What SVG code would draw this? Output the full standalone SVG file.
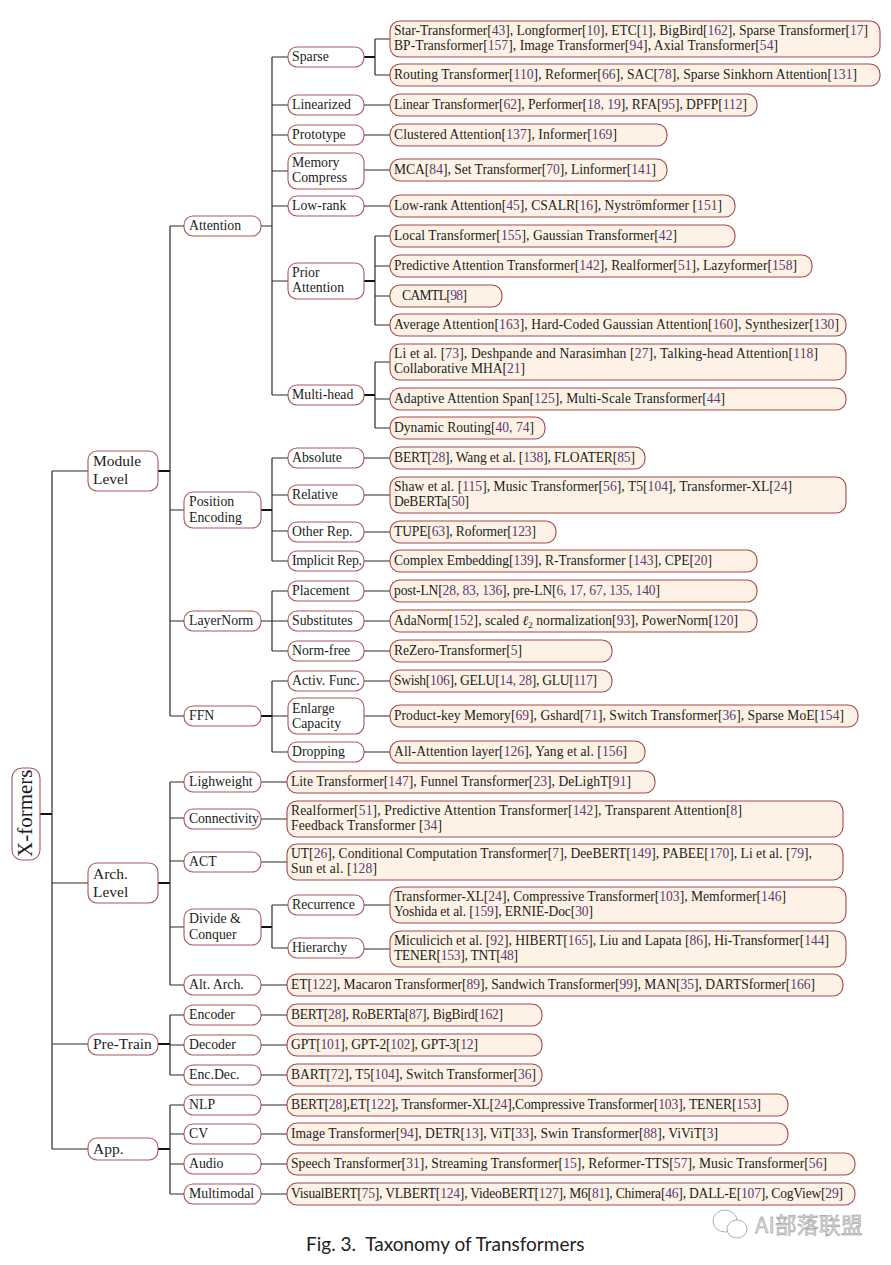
<svg xmlns="http://www.w3.org/2000/svg" width="891" height="1265" viewBox="0 0 891 1265">
<style>
text{font-family:"Liberation Serif","Times New Roman",serif;font-size:13.8px;fill:#1c1c1c;white-space:pre}
.l text{font-size:13.55px}
.c{fill:#5b3a70}
.n rect{fill:#fff;stroke:#a9565e;stroke-width:1.1}
.l rect{fill:#fdf2e5;stroke:#a8474c;stroke-width:1.1}
.n text.big{font-size:15.5px}
text.cap{font-family:Lato,"Noto Sans",sans-serif;font-size:19px;fill:#222}
#connectors path{fill:none;stroke:#2a2a2a;stroke-width:1.2}
#connectors path.s{stroke:#111;stroke-width:1.8}
</style>
<g id="connectors"><path d="M52 471V1149M52 471H88M52 883H88M52 1044H88M52 1149H88"/>
<path class="s" d="M40 814H52M158 471H170M158 883H170M158 1044H170M158 1149H170M261 510H272M261 716H272M261 927H272M364 57H375M364 281H375M364 395H375"/>
<path d="M170 226V716M170 226H184M170 510H184M170 621H184M170 716H184"/>
<path d="M170 782V985M170 782H184M170 818H184M170 861H184M170 927H184M170 985H184"/>
<path d="M170 1015V1075M170 1015H184M170 1075H184M170 1045H184"/>
<path d="M170 1105V1194M170 1105H184M170 1134H184M170 1164H184M170 1194H184"/>
<path d="M261 226H272M272 57V395M272 57H288M272 105H288M272 135H288M272 171H288M272 206H288M272 281H288M272 395H288"/>
<path d="M272 458V561M272 458H288M272 495H288M272 531H288M272 561H288"/>
<path d="M261 621H272M272 591V651M272 591H288M272 621H288M272 651H288"/>
<path d="M272 681V752M272 681H288M272 716H288M272 752H288"/>
<path d="M272 905V948M272 905H288M272 948H288"/>
<path d="M375 39V75M375 39H390M375 75H390M364 105H390M364 135H390M364 170H390M364 206H390"/>
<path d="M375 236V325M375 236H390M375 266H390M375 296H390M375 325H390"/>
<path d="M375 362V428M375 362H390M375 399H390M375 428H390"/>
<path d="M364 458H390M364 495H390M364 532H390M364 561H390M364 591H390M364 621H390M364 651H390M364 681H390M364 716H390M364 752H390M364 905H390M364 949H390"/>
<path d="M261 782H287M261 819H287M261 862H287M261 985H287M261 1015H287M261 1045H287M261 1075H287M261 1105H287M261 1134H287M261 1164H287M261 1194H287"/>
</g>
<g id="root" class="n"><rect x="12" y="768" width="28" height="92" rx="10"/><text class="big" style="font-size:21px" transform="translate(32 857) rotate(-90)">X-formers</text></g>
<g id="module-level" class="n"><rect x="88" y="451" width="70" height="40" rx="9"/><text class="big" x="93" y="466">Module</text><text class="big" x="93" y="484">Level</text></g>
<g id="arch-level" class="n"><rect x="88" y="863" width="70" height="40" rx="9"/><text class="big" x="93" y="879">Arch.</text><text class="big" x="93" y="897">Level</text></g>
<g id="pre-train" class="n"><rect x="88" y="1034" width="70" height="21" rx="9"/><text class="big" x="93" y="1049">Pre-Train</text></g>
<g id="app" class="n"><rect x="88" y="1138" width="70" height="22" rx="9"/><text class="big" x="93" y="1154">App.</text></g>
<g id="attention" class="n"><rect x="184" y="216" width="77" height="20" rx="9"/><text x="189" y="230">Attention</text></g>
<g id="position-encoding" class="n"><rect x="184" y="492" width="77" height="36" rx="9"/><text x="189" y="506">Position</text><text x="189" y="522">Encoding</text></g>
<g id="layernorm" class="n"><rect x="184" y="611" width="77" height="20" rx="9"/><text x="189" y="625">LayerNorm</text></g>
<g id="ffn" class="n"><rect x="184" y="706" width="77" height="20" rx="9"/><text x="189" y="720">FFN</text></g>
<g id="lighweight" class="n"><rect x="184" y="772" width="77" height="20" rx="9"/><text x="189" y="786">Lighweight</text></g>
<g id="connectivity" class="n"><rect x="184" y="809" width="77" height="20" rx="9"/><text x="189" y="823" textLength="70">Connectivity</text></g>
<g id="act" class="n"><rect x="184" y="852" width="77" height="20" rx="9"/><text x="189" y="866">ACT</text></g>
<g id="divide" class="n"><rect x="184" y="909" width="77" height="36" rx="9"/><text x="189" y="923">Divide &amp;</text><text x="189" y="939">Conquer</text></g>
<g id="alt-arch" class="n"><rect x="184" y="975" width="77" height="20" rx="9"/><text x="189" y="989">Alt. Arch.</text></g>
<g id="encoder" class="n"><rect x="184" y="1005" width="77" height="20" rx="9"/><text x="189" y="1019">Encoder</text></g>
<g id="decoder" class="n"><rect x="184" y="1035" width="77" height="20" rx="9"/><text x="189" y="1049">Decoder</text></g>
<g id="enc-dec" class="n"><rect x="184" y="1065" width="77" height="20" rx="9"/><text x="189" y="1079">Enc.Dec.</text></g>
<g id="nlp" class="n"><rect x="184" y="1095" width="77" height="20" rx="9"/><text x="189" y="1109">NLP</text></g>
<g id="cv" class="n"><rect x="184" y="1124" width="77" height="20" rx="9"/><text x="189" y="1138">CV</text></g>
<g id="audio" class="n"><rect x="184" y="1154" width="77" height="20" rx="9"/><text x="189" y="1168">Audio</text></g>
<g id="multimodal" class="n"><rect x="184" y="1184" width="77" height="20" rx="9"/><text x="189" y="1198">Multimodal</text></g>
<g id="sparse" class="n"><rect x="288" y="47" width="76" height="20" rx="9"/><text x="292" y="61">Sparse</text></g>
<g id="linearized" class="n"><rect x="288" y="95" width="76" height="20" rx="9"/><text x="292" y="109">Linearized</text></g>
<g id="prototype" class="n"><rect x="288" y="125" width="76" height="20" rx="9"/><text x="292" y="139">Prototype</text></g>
<g id="memory" class="n"><rect x="288" y="153" width="76" height="36" rx="9"/><text x="292" y="167">Memory</text><text x="292" y="182">Compress</text></g>
<g id="low-rank" class="n"><rect x="288" y="196" width="76" height="20" rx="9"/><text x="292" y="210">Low-rank</text></g>
<g id="prior" class="n"><rect x="288" y="263" width="76" height="36" rx="9"/><text x="292" y="277">Prior</text><text x="292" y="292">Attention</text></g>
<g id="multi-head" class="n"><rect x="288" y="385" width="76" height="20" rx="9"/><text x="292" y="399">Multi-head</text></g>
<g id="absolute" class="n"><rect x="288" y="448" width="76" height="20" rx="9"/><text x="292" y="462">Absolute</text></g>
<g id="relative" class="n"><rect x="288" y="485" width="76" height="20" rx="9"/><text x="292" y="499">Relative</text></g>
<g id="other-rep" class="n"><rect x="288" y="522" width="76" height="20" rx="9"/><text x="292" y="536">Other Rep.</text></g>
<g id="implicit-rep" class="n"><rect x="288" y="551" width="76" height="20" rx="9"/><text x="292" y="565" textLength="70">Implicit Rep.</text></g>
<g id="placement" class="n"><rect x="288" y="581" width="76" height="20" rx="9"/><text x="292" y="595">Placement</text></g>
<g id="substitutes" class="n"><rect x="288" y="611" width="76" height="20" rx="9"/><text x="292" y="625">Substitutes</text></g>
<g id="norm-free" class="n"><rect x="288" y="641" width="76" height="20" rx="9"/><text x="292" y="655">Norm-free</text></g>
<g id="activ" class="n"><rect x="288" y="671" width="76" height="20" rx="9"/><text x="292" y="685">Activ. Func.</text></g>
<g id="enlarge" class="n"><rect x="288" y="698" width="76" height="36" rx="9"/><text x="292" y="713">Enlarge</text><text x="292" y="728">Capacity</text></g>
<g id="dropping" class="n"><rect x="288" y="742" width="76" height="20" rx="9"/><text x="292" y="756">Dropping</text></g>
<g id="recurrence" class="n"><rect x="288" y="895" width="76" height="20" rx="9"/><text x="292" y="909">Recurrence</text></g>
<g id="hierarchy" class="n"><rect x="288" y="938" width="76" height="20" rx="9"/><text x="292" y="952">Hierarchy</text></g>

<g id="leaf-1" class="l"><rect x="390" y="21" width="490" height="36" rx="10"/><text x="394" y="35" textLength="474">Star-Transformer[<tspan class="c">43</tspan>], Longformer[<tspan class="c">10</tspan>], ETC[<tspan class="c">1</tspan>], BigBird[<tspan class="c">162</tspan>], Sparse Transformer[<tspan class="c">17</tspan>]</text><text x="394" y="50" textLength="384">BP-Transformer[<tspan class="c">157</tspan>], Image Transformer[<tspan class="c">94</tspan>], Axial Transformer[<tspan class="c">54</tspan>]</text></g>
<g id="leaf-2" class="l"><rect x="390" y="64" width="490" height="22" rx="10"/><text x="394" y="79" textLength="463">Routing Transformer[<tspan class="c">110</tspan>], Reformer[<tspan class="c">66</tspan>], SAC[<tspan class="c">78</tspan>], Sparse Sinkhorn Attention[<tspan class="c">131</tspan>]</text></g>
<g id="leaf-3" class="l"><rect x="390" y="94" width="367" height="22" rx="10"/><text x="394" y="109" textLength="353">Linear Transformer[<tspan class="c">62</tspan>], Performer[<tspan class="c">18, 19</tspan>], RFA[<tspan class="c">95</tspan>], DPFP[<tspan class="c">112</tspan>]</text></g>
<g id="leaf-4" class="l"><rect x="390" y="124" width="277" height="22" rx="10"/><text x="394" y="139" textLength="223">Clustered Attention[<tspan class="c">137</tspan>], Informer[<tspan class="c">169</tspan>]</text></g>
<g id="leaf-5" class="l"><rect x="390" y="159" width="277" height="22" rx="10"/><text x="394" y="174" textLength="262">MCA[<tspan class="c">84</tspan>], Set Transformer[<tspan class="c">70</tspan>], Linformer[<tspan class="c">141</tspan>]</text></g>
<g id="leaf-6" class="l"><rect x="390" y="195" width="345" height="22" rx="10"/><text x="394" y="210" textLength="328">Low-rank Attention[<tspan class="c">45</tspan>], CSALR[<tspan class="c">16</tspan>], Nyströmformer [<tspan class="c">151</tspan>]</text></g>
<g id="leaf-7" class="l"><rect x="390" y="225" width="345" height="22" rx="10"/><text x="394" y="240" textLength="283">Local Transformer[<tspan class="c">155</tspan>], Gaussian Transformer[<tspan class="c">42</tspan>]</text></g>
<g id="leaf-8" class="l"><rect x="390" y="255" width="422" height="22" rx="10"/><text x="394" y="270" textLength="403">Predictive Attention Transformer[<tspan class="c">142</tspan>], Realformer[<tspan class="c">51</tspan>], Lazyformer[<tspan class="c">158</tspan>]</text></g>
<g id="leaf-9" class="l"><rect x="390" y="285" width="112" height="22" rx="10"/><text x="402" y="300" textLength="65">CAMTL[<tspan class="c">98</tspan>]</text></g>
<g id="leaf-10" class="l"><rect x="390" y="314" width="456" height="22" rx="10"/><text x="394" y="329" textLength="445">Average Attention[<tspan class="c">163</tspan>], Hard-Coded Gaussian Attention[<tspan class="c">160</tspan>], Synthesizer[<tspan class="c">130</tspan>]</text></g>
<g id="leaf-11" class="l"><rect x="390" y="344" width="456" height="36" rx="10"/><text x="394" y="358" textLength="424">Li et al. [<tspan class="c">73</tspan>], Deshpande and Narasimhan [<tspan class="c">27</tspan>], Talking-head Attention[<tspan class="c">118</tspan>]</text><text x="394" y="373" textLength="131">Collaborative MHA[<tspan class="c">21</tspan>]</text></g>
<g id="leaf-12" class="l"><rect x="390" y="388" width="456" height="22" rx="10"/><text x="394" y="403" textLength="331">Adaptive Attention Span[<tspan class="c">125</tspan>], Multi-Scale Transformer[<tspan class="c">44</tspan>]</text></g>
<g id="leaf-13" class="l"><rect x="390" y="417" width="155" height="22" rx="10"/><text x="394" y="432" textLength="140">Dynamic Routing[<tspan class="c">40, 74</tspan>]</text></g>
<g id="leaf-14" class="l"><rect x="390" y="447" width="255" height="22" rx="10"/><text x="394" y="462" textLength="241">BERT[<tspan class="c">28</tspan>], Wang et al. [<tspan class="c">138</tspan>], FLOATER[<tspan class="c">85</tspan>]</text></g>
<g id="leaf-15" class="l"><rect x="390" y="477" width="456" height="36" rx="10"/><text x="394" y="491" textLength="398">Shaw et al. [<tspan class="c">115</tspan>], Music Transformer[<tspan class="c">56</tspan>], T5[<tspan class="c">104</tspan>], Transformer-XL[<tspan class="c">24</tspan>]</text><text x="394" y="506" textLength="75">DeBERTa[<tspan class="c">50</tspan>]</text></g>
<g id="leaf-16" class="l"><rect x="390" y="521" width="166" height="22" rx="10"/><text x="394" y="536" textLength="142">TUPE[<tspan class="c">63</tspan>], Roformer[<tspan class="c">123</tspan>]</text></g>
<g id="leaf-17" class="l"><rect x="390" y="550" width="367" height="22" rx="10"/><text x="394" y="565" textLength="318">Complex Embedding[<tspan class="c">139</tspan>], R-Transformer [<tspan class="c">143</tspan>], CPE[<tspan class="c">20</tspan>]</text></g>
<g id="leaf-18" class="l"><rect x="390" y="580" width="367" height="22" rx="10"/><text x="394" y="595" textLength="266">post-LN[<tspan class="c">28, 83, 136</tspan>], pre-LN[<tspan class="c">6, 17, 67, 135, 140</tspan>]</text></g>
<g id="leaf-19" class="l"><rect x="390" y="610" width="367" height="22" rx="10"/><text x="394" y="625" textLength="344">AdaNorm[<tspan class="c">152</tspan>], scaled <tspan font-style="italic">ℓ</tspan><tspan dy="3" font-size="9">2</tspan><tspan dy="-3"> normalization[</tspan><tspan class="c">93</tspan>], PowerNorm[<tspan class="c">120</tspan>]</text></g>
<g id="leaf-20" class="l"><rect x="390" y="640" width="222" height="22" rx="10"/><text x="394" y="655" textLength="128">ReZero-Transformer[<tspan class="c">5</tspan>]</text></g>
<g id="leaf-21" class="l"><rect x="390" y="670" width="222" height="22" rx="10"/><text x="394" y="685" textLength="203">Swish[<tspan class="c">106</tspan>], GELU[<tspan class="c">14, 28</tspan>], GLU[<tspan class="c">117</tspan>]</text></g>
<g id="leaf-22" class="l"><rect x="390" y="705" width="468" height="22" rx="10"/><text x="394" y="720" textLength="450">Product-key Memory[<tspan class="c">69</tspan>], Gshard[<tspan class="c">71</tspan>], Switch Transformer[<tspan class="c">36</tspan>], Sparse MoE[<tspan class="c">154</tspan>]</text></g>
<g id="leaf-23" class="l"><rect x="390" y="741" width="255" height="22" rx="10"/><text x="394" y="756" textLength="233">All-Attention layer[<tspan class="c">126</tspan>], Yang et al. [<tspan class="c">156</tspan>]</text></g>
<g id="leaf-24" class="l"><rect x="287" y="771" width="368" height="22" rx="10"/><text x="291" y="786" textLength="340">Lite Transformer[<tspan class="c">147</tspan>], Funnel Transformer[<tspan class="c">23</tspan>], DeLighT[<tspan class="c">91</tspan>]</text></g>
<g id="leaf-25" class="l"><rect x="287" y="801" width="556" height="36" rx="10"/><text x="291" y="815" textLength="451">Realformer[<tspan class="c">51</tspan>], Predictive Attention Transformer[<tspan class="c">142</tspan>], Transparent Attention[<tspan class="c">8</tspan>]</text><text x="291" y="830" textLength="151">Feedback Transformer [<tspan class="c">34</tspan>]</text></g>
<g id="leaf-26" class="l"><rect x="287" y="844" width="556" height="36" rx="10"/><text x="291" y="858" textLength="521">UT[<tspan class="c">26</tspan>], Conditional Computation Transformer[<tspan class="c">7</tspan>], DeeBERT[<tspan class="c">149</tspan>], PABEE[<tspan class="c">170</tspan>], Li et al. [<tspan class="c">79</tspan>],</text><text x="291" y="873" textLength="86">Sun et al. [<tspan class="c">128</tspan>]</text></g>
<g id="leaf-27" class="l"><rect x="390" y="887" width="456" height="36" rx="10"/><text x="394" y="901" textLength="392">Transformer-XL[<tspan class="c">24</tspan>], Compressive Transformer[<tspan class="c">103</tspan>], Memformer[<tspan class="c">146</tspan>]</text><text x="394" y="916" textLength="199">Yoshida et al. [<tspan class="c">159</tspan>], ERNIE-Doc[<tspan class="c">30</tspan>]</text></g>
<g id="leaf-28" class="l"><rect x="390" y="931" width="456" height="36" rx="10"/><text x="394" y="945" textLength="435">Miculicich et al. [<tspan class="c">92</tspan>], HIBERT[<tspan class="c">165</tspan>], Liu and Lapata [<tspan class="c">86</tspan>], Hi-Transformer[<tspan class="c">144</tspan>]</text><text x="394" y="960" textLength="124">TENER[<tspan class="c">153</tspan>], TNT[<tspan class="c">48</tspan>]</text></g>
<g id="leaf-29" class="l"><rect x="287" y="974" width="556" height="22" rx="10"/><text x="291" y="989" textLength="524">ET[<tspan class="c">122</tspan>], Macaron Transformer[<tspan class="c">89</tspan>], Sandwich Transformer[<tspan class="c">99</tspan>], MAN[<tspan class="c">35</tspan>], DARTSformer[<tspan class="c">166</tspan>]</text></g>
<g id="leaf-30" class="l"><rect x="287" y="1004" width="255" height="22" rx="10"/><text x="291" y="1019" textLength="212">BERT[<tspan class="c">28</tspan>], RoBERTa[<tspan class="c">87</tspan>], BigBird[<tspan class="c">162</tspan>]</text></g>
<g id="leaf-31" class="l"><rect x="287" y="1034" width="255" height="22" rx="10"/><text x="291" y="1049" textLength="187">GPT[<tspan class="c">101</tspan>], GPT-2[<tspan class="c">102</tspan>], GPT-3[<tspan class="c">12</tspan>]</text></g>
<g id="leaf-32" class="l"><rect x="287" y="1064" width="255" height="22" rx="10"/><text x="291" y="1079" textLength="245">BART[<tspan class="c">72</tspan>], T5[<tspan class="c">104</tspan>], Switch Transformer[<tspan class="c">36</tspan>]</text></g>
<g id="leaf-33" class="l"><rect x="287" y="1094" width="501" height="22" rx="10"/><text x="291" y="1109" textLength="470">BERT[<tspan class="c">28</tspan>],ET[<tspan class="c">122</tspan>], Transformer-XL[<tspan class="c">24</tspan>],Compressive Transformer[<tspan class="c">103</tspan>], TENER[<tspan class="c">153</tspan>]</text></g>
<g id="leaf-34" class="l"><rect x="287" y="1123" width="501" height="22" rx="10"/><text x="291" y="1138" textLength="427">Image Transformer[<tspan class="c">94</tspan>], DETR[<tspan class="c">13</tspan>], ViT[<tspan class="c">33</tspan>], Swin Transformer[<tspan class="c">88</tspan>], ViViT[<tspan class="c">3</tspan>]</text></g>
<g id="leaf-35" class="l"><rect x="287" y="1153" width="568" height="22" rx="10"/><text x="291" y="1168" textLength="536">Speech Transformer[<tspan class="c">31</tspan>], Streaming Transformer[<tspan class="c">15</tspan>], Reformer-TTS[<tspan class="c">57</tspan>], Music Transformer[<tspan class="c">56</tspan>]</text></g>
<g id="leaf-36" class="l"><rect x="287" y="1183" width="568" height="22" rx="10"/><text x="291" y="1198" textLength="552">VisualBERT[<tspan class="c">75</tspan>], VLBERT[<tspan class="c">124</tspan>], VideoBERT[<tspan class="c">127</tspan>], M6[<tspan class="c">81</tspan>], Chimera[<tspan class="c">46</tspan>], DALL-E[<tspan class="c">107</tspan>], CogView[<tspan class="c">29</tspan>]</text></g>

<text class="cap" x="306" y="1251">Fig. 3.  Taxonomy of Transformers</text>
<g id="watermark" fill="#fff" stroke="#9a9a9a" stroke-width="0.8"><ellipse cx="725" cy="1221" rx="12" ry="11"/><ellipse cx="737" cy="1229" rx="10" ry="9"/></g>
<text x="755" y="1233" style="font-family:'Noto Sans CJK SC','Noto Sans',sans-serif;font-size:22px;fill:#d8d8d8;stroke:#8a8a8a;stroke-width:.4">AI部落联盟</text>
</svg>
